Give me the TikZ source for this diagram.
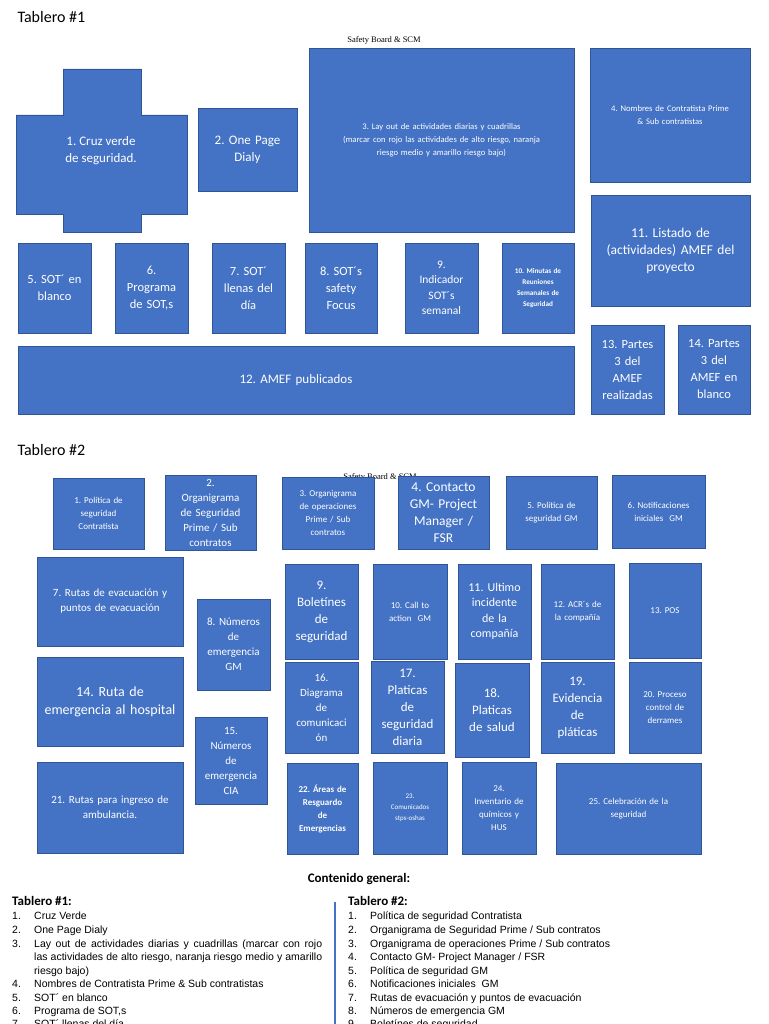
\documentclass[tikz,border=0pt]{standalone}
\usepackage{fontspec}
\setmainfont{Carlito}
\newfontfamily\lsans{Liberation Sans}
\newfontfamily\lserif{Liberation Serif}
\definecolor{boxblue}{HTML}{4472C4}
\definecolor{boxedge}{HTML}{2F5597}
\frenchspacing
\hyphenpenalty=10000
\exhyphenpenalty=10000
\newcommand\bx[8]{%
 \pgfmathsetmacro\bw{#4-#2}\pgfmathsetmacro\bh{#5-#3}\pgfmathsetmacro\tw{#4-#2-8}%
 \node[bx,minimum width=\bw pt,minimum height=\bh pt,text width=\tw pt,font=\fontsize{#6}{#7}\selectfont] (#1) at ({(#2+#4)/2},{(#3+#5)/2}) {#8};}
\begin{document}
\begin{tikzpicture}[x=1pt,y=-1pt,
 bx/.style={draw=boxedge,fill=boxblue,text=white,align=center,inner sep=4pt,line width=0.6pt},
 title/.style={anchor=west,font=\fontsize{16}{18}\selectfont},
 li/.style={anchor=base west,font=\lsans\fontsize{10.5}{13.6}\selectfont,inner sep=0pt}]
\useasboundingbox (0,0) rectangle (768,1024);
\clip (0,0) rectangle (768,1024);
\fill[white] (0,0) rectangle (768,1024);
% Tablero 1
\node[title] (t1) at (14,17) {Tablero \#1};
\node[font=\lserif\fontsize{8.5}{10}\selectfont] (sb1) at (384,40) {Safety Board \& SCM};
\fill[boxblue,draw=boxedge,line width=0.6pt] (63,69) -- (141,69) -- (141,115) -- (187,115) -- (187,214) -- (141,214) -- (141,232) -- (63,232) -- (63,214) -- (16,214) -- (16,115) -- (63,115) -- cycle;
\node[text=white,align=center,font=\fontsize{13}{17}\selectfont] (b1) at (101,151) {1. Cruz verde\\de seguridad.};
\bx{b2}{198}{108}{297}{191}{13}{17}{2. One Page\\Dialy}
\bx{b3}{309}{48}{574}{232}{8.6}{13}{3. Lay out de actividades diarias y cuadrillas\\(marcar con rojo las actividades de alto riesgo, naranja\\riesgo medio y amarillo riesgo bajo)\\[44pt]}
\bx{b4}{590}{48}{750}{182}{8.6}{13}{4. Nombres de Contratista Prime\\\& Sub contratistas\\[30pt]}
\bx{b11}{591}{195}{750}{306}{13.5}{17}{11. Listado de\\(actividades) AMEF del\\proyecto}
\bx{b5}{18}{243}{91}{333}{12.5}{17}{5. SOT´ en\\blanco}
\bx{b6}{115}{243}{188}{333}{12.5}{17}{6.\\Programa\\de SOT,s}
\bx{b7}{212}{243}{285}{333}{12.5}{17}{7. SOT´\\llenas del\\día}
\bx{b8}{305}{243}{377}{333}{12.5}{17}{8. SOT´s\\safety\\Focus}
\bx{b9}{405}{243}{478}{333}{11.5}{15.5}{9.\\Indicador\\SOT´s\\semanal}
\bx{b10}{502}{243}{574}{333}{7.2}{11}{\bfseries 10. Minutas de\\Reuniones\\Semanales de\\Seguridad}
\bx{b12}{18}{346}{574}{414}{13}{17}{12. AMEF publicados}
\bx{b13}{591}{325}{664}{414}{12.5}{17}{13. Partes\\3 del\\AMEF\\realizadas}
\bx{b14}{678}{325}{750}{414}{12.5}{17}{14. Partes\\3 del\\AMEF en\\blanco}
% Tablero 2
\node[title] (t2) at (14,450) {Tablero \#2};
\node[font=\lserif\fontsize{8.5}{10}\selectfont] (sb2) at (380,477) {Safety Board \& SCM};
\bx{c1}{53}{478}{144}{549}{9}{13}{1. Política de\\seguridad\\Contratista}
\bx{c2}{165}{476}{256}{549}{11}{15}{2.\\Organigrama\\de Seguridad\\Prime / Sub\\contratos}
\bx{c3}{282}{477}{374}{549}{9}{13}{3. Organigrama\\de operaciones\\Prime / Sub\\contratos}
\bx{c4}{398}{476}{489}{549}{13.5}{17}{4. Contacto\\GM- Project\\Manager /\\FSR}
\bx{c5}{506}{476}{597}{549}{9}{13}{5. Política de\\seguridad GM}
\bx{c6}{612}{475}{705}{548}{9}{13}{6. Notificaciones\\iniciales\ \ GM}
\bx{c7}{37}{557}{183}{646}{11}{15}{7. Rutas de evacuación y\\puntos de evacuación\\[14pt]}
\bx{c8}{197}{599}{270}{690}{11}{15}{8. Números\\de\\emergencia\\GM}
\bx{c9}{285}{564}{358}{659}{13}{17}{9.\\Boletínes\\de\\seguridad}
\bx{c10}{373}{564}{447}{659}{9}{13}{10. Call to\\action\ \ GM\\[16pt]}
\bx{c11}{458}{564}{531}{659}{12}{15.5}{11. Ultimo\\incidente\\de la\\compañía}
\bx{c12}{541}{564}{614}{659}{9}{13}{12. ACR´s de\\la compañía}
\bx{c13}{629}{563}{701}{658}{9}{13}{13. POS}
\bx{c14}{37}{657}{183}{746}{14}{18}{14. Ruta de\\emergencia al hospital}
\bx{c15}{195}{717}{267}{804}{11}{15}{15.\\Números\\de\\emergencia\\CIA}
\bx{c16}{285}{662}{358}{753}{11}{15}{16.\\Diagrama\\de\\comunicaci\\ón}
\bx{c17}{371}{661}{444}{753}{13}{17}{17.\\Platicas\\de\\seguridad\\diaria}
\bx{c18}{455}{663}{529}{757}{13}{17}{18.\\Platicas\\de salud}
\bx{c19}{541}{662}{614}{753}{13}{17}{19.\\Evidencia\\de\\pláticas}
\bx{c20}{629}{662}{701}{753}{9}{13}{20. Proceso\\control de\\derrames}
\bx{c21}{37}{762}{183}{853}{11}{15}{21. Rutas para ingreso de\\ambulancia.}
\bx{c22}{287}{763}{358}{854}{9}{13}{\bfseries 22. Áreas de\\Resguardo\\de\\Emergencias}
\bx{c23}{373}{762}{447}{854}{7}{11}{23.\\Comunicados\\stps-oshas\\[8pt]}
\bx{c24}{462}{762}{536}{854}{9}{13}{24.\\Inventario de\\químicos y\\HUS}
\bx{c25}{556}{763}{701}{854}{9}{13}{25. Celebración de la\\seguridad}
% Contenido general
\node[font=\bfseries\fontsize{13}{15}\selectfont] (cg) at (359,879) {Contenido general:};
\draw[boxblue,line width=1.5pt] (335,902) -- (335,1024);
\node[anchor=west,font=\bfseries\fontsize{13}{15}\selectfont,inner sep=0pt] (l1) at (12,901) {Tablero \#1:};
\node[anchor=west,font=\bfseries\fontsize{13}{15}\selectfont,inner sep=0pt] (r1) at (348,901) {Tablero \#2:};
\foreach \n/\y/\t in {1/919/{Cruz Verde},2/933/{One Page Dialy},4/987/{Nombres de Contratista Prime \& Sub contratistas},5/1001/{SOT´ en blanco},6/1014/{Programa de SOT,s},7/1027/{SOT´ llenas del día}}{
 \node[li] at (12,\y) {\n.}; \node[li] at (34,\y) {\t};}
\node[li] (n3) at (12,947) {3.};
\node[li,anchor=base west,text width=288pt,align=justify] (l3) at (34,947) {Lay out de actividades diarias y cuadrillas (marcar con rojo las actividades de alto riesgo, naranja riesgo medio y amarillo riesgo bajo)};
\foreach \n/\y/\t in {1/919/{Política de seguridad Contratista},2/933/{Organigrama de Seguridad Prime / Sub contratos},3/947/{Organigrama de operaciones Prime / Sub contratos},4/960/{Contacto GM- Project Manager / FSR},5/974/{Política de seguridad GM},6/987/{Notificaciones iniciales\ \ GM},7/1001/{Rutas de evacuación y puntos de evacuación},8/1014/{Números de emergencia GM},9/1027/{Boletínes de seguridad}}{
 \node[li] at (348,\y) {\n.}; \node[li] at (370,\y) {\t};}
\end{tikzpicture}
\end{document}
